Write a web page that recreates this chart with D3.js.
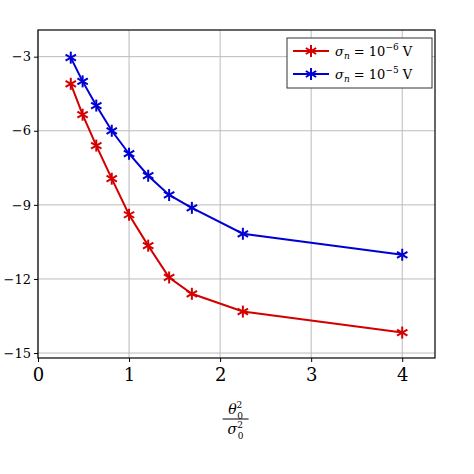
<!DOCTYPE html><html><head><meta charset="utf-8">
<script src="https://cdn.jsdelivr.net/npm/d3@7"></script>
<style>body{margin:0;background:#fff}text{font-family:"DejaVu Serif","Liberation Serif",serif}</style></head><body>
<svg id="c" width="474" height="474"></svg>
<script>
const xs=[0.36,0.49,0.64,0.81,1.0,1.21,1.44,1.69,2.25,4.0];
const red=[-4.1,-5.35,-6.6,-7.94,-9.4,-10.65,-11.94,-12.6,-13.32,-14.17];
const blue=[-3.04,-4.0,-4.98,-6.0,-6.93,-7.82,-8.6,-9.12,-10.17,-11.02];
const xTicks=[0,1,2,3,4], yTicks=[-3,-6,-9,-12,-15];
const svg=d3.select("#c");
const L=38,R=435,T=30,B=358;
const x=d3.scaleLinear().domain([0,4.36]).range([L,R]);
const y=d3.scaleLinear().domain([-15.2,-1.92]).range([B,T]);
const g=svg.append("g");
xTicks.forEach(t=>g.append("line").attr("x1",x(t)).attr("x2",x(t)).attr("y1",T).attr("y2",B).attr("stroke","#bbb"));
yTicks.forEach(t=>g.append("line").attr("x1",L).attr("x2",R).attr("y1",y(t)).attr("y2",y(t)).attr("stroke","#bbb"));
svg.append("g").attr("transform",`translate(0,${B})`).call(d3.axisBottom(x).tickValues(xTicks).tickFormat(d3.format("d")).tickSize(4)).call(a=>{a.select(".domain").remove();a.selectAll("text").attr("font-size",18).attr("dy","0.9em").style("font-family","DejaVu Serif,serif");});
svg.append("g").attr("transform",`translate(${L},0)`).call(d3.axisLeft(y).tickValues(yTicks).tickFormat(d=>"−"+Math.abs(d)).tickSize(4)).call(a=>{a.select(".domain").remove();a.selectAll("text").attr("font-size",13).style("font-family","DejaVu Serif,serif");});
svg.append("rect").attr("x",L).attr("y",T).attr("width",R-L).attr("height",B-T).attr("fill","none").attr("stroke","#000").attr("stroke-width",1.2);
const line=d3.line().x((d,i)=>x(xs[i])).y(d=>y(d));
function mk(s){
  s.append("line").attr("x1",0).attr("x2",0).attr("y1",-6).attr("y2",6);
  s.append("line").attr("x1",-5.2).attr("x2",5.2).attr("y1",-3).attr("y2",3);
  s.append("line").attr("x1",-5.2).attr("x2",5.2).attr("y1",3).attr("y2",-3);
}
[[red,"#d40000"],[blue,"#0000d4"]].forEach(([d,c])=>{
  svg.append("path").datum(d).attr("d",line).attr("fill","none").attr("stroke",c).attr("stroke-width",2);
  d.forEach((v,i)=>{const s=svg.append("g").attr("transform",`translate(${x(xs[i])},${y(v)})`).attr("stroke",c).attr("stroke-width",2);mk(s);});
});
const lg=svg.append("g").attr("transform","translate(287,38)");
lg.append("rect").attr("width",145).attr("height",50).attr("fill","#fff").attr("stroke","#333");
[["−6","#d40000"],["−5","#0000d4"]].forEach(([e,c],i)=>{
  const yy=13+i*23;
  lg.append("line").attr("x1",6).attr("x2",42).attr("y1",yy).attr("y2",yy).attr("stroke",c).attr("stroke-width",2);
  const s=lg.append("g").attr("transform",`translate(24,${yy})`).attr("stroke",c).attr("stroke-width",2);mk(s);
  const t=lg.append("text").attr("x",48).attr("y",yy+5).attr("font-size",13);
  t.append("tspan").attr("font-style","italic").text("σ");
  t.append("tspan").attr("font-style","italic").attr("font-size",9).attr("dy",3).text("n");
  t.append("tspan").attr("dy",-3).text(" = 10");
  t.append("tspan").attr("font-size",9).attr("dy",-6).text(e);
  t.append("tspan").attr("dy",6).text(" V");
});
const f=svg.append("g").attr("transform",`translate(${x(2.17)},418)`).attr("text-anchor","middle").attr("font-size",14);
const n=f.append("text").attr("y",-4);
n.append("tspan").attr("font-style","italic").text("θ");
n.append("tspan").attr("font-size",9).attr("dy",-6).text("2");
n.append("tspan").attr("font-size",9).attr("dx",-5).attr("dy",11).text("0");
f.append("line").attr("x1",-13).attr("x2",13).attr("y1",1).attr("y2",1).attr("stroke","#000");
const dn=f.append("text").attr("y",16);
dn.append("tspan").attr("font-style","italic").text("σ");
dn.append("tspan").attr("font-size",9).attr("dy",-6).text("2");
dn.append("tspan").attr("font-size",9).attr("dx",-5).attr("dy",11).text("0");
</script></body></html>
